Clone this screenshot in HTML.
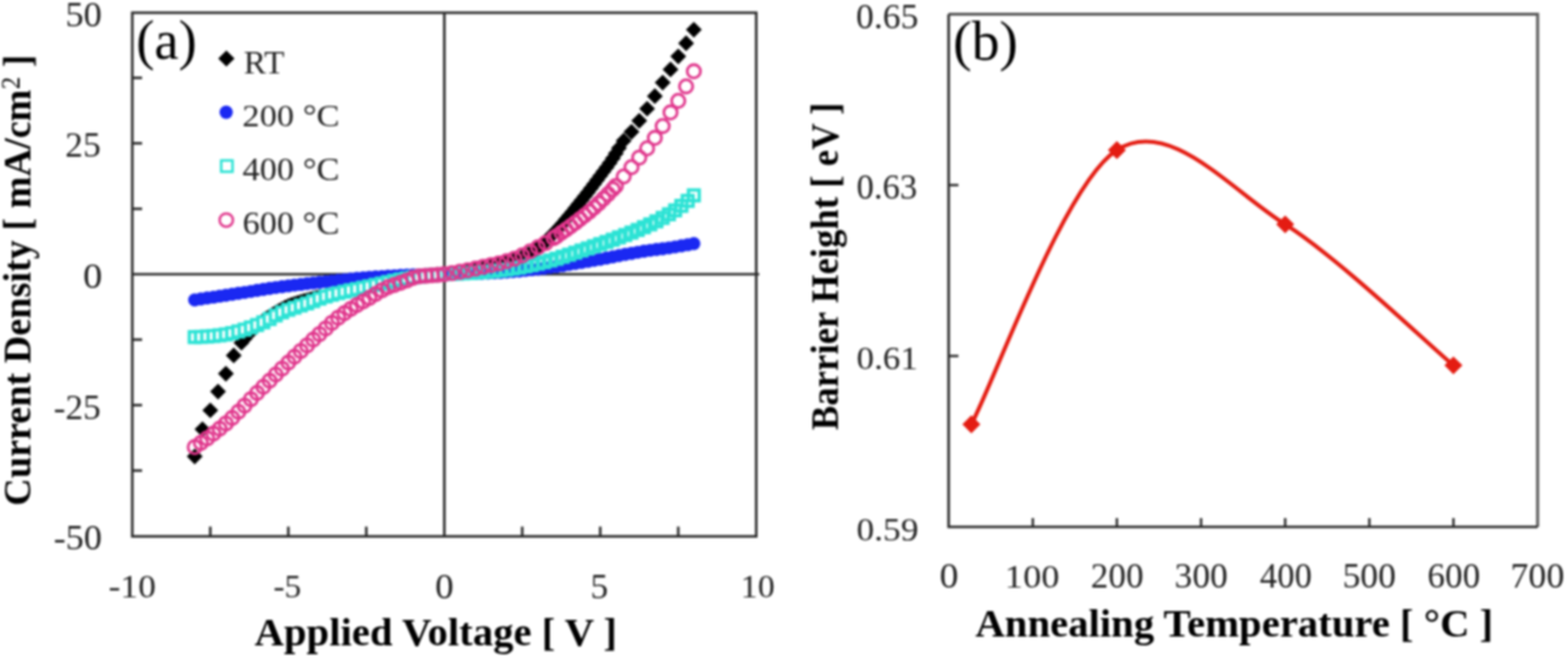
<!DOCTYPE html>
<html><head><meta charset="utf-8"><title>Figure</title>
<style>html,body{margin:0;padding:0;background:#fff;width:1600px;height:678px;overflow:hidden}svg{display:block;filter:blur(0.8px)}</style>
</head><body>
<svg width="1600" height="678" viewBox="0 0 1600 678" font-family="'Liberation Serif', serif">
<rect width="1600" height="678" fill="#fff"/>
<g stroke="#2a2a2a" stroke-width="2.6" fill="none">
<rect x="135.0" y="13.0" width="636.7" height="534.7"/>
<line x1="135.0" y1="280.0" x2="774.7" y2="280.0"/>
<line x1="453.4" y1="13.0" x2="453.4" y2="547.7"/>
<line x1="135.0" y1="79.5" x2="145.0" y2="79.5"/>
<line x1="135.0" y1="146.3" x2="145.0" y2="146.3"/>
<line x1="135.0" y1="213.2" x2="145.0" y2="213.2"/>
<line x1="135.0" y1="346.8" x2="145.0" y2="346.8"/>
<line x1="135.0" y1="413.7" x2="145.0" y2="413.7"/>
<line x1="135.0" y1="480.5" x2="145.0" y2="480.5"/>
<line x1="214.6" y1="547.7" x2="214.6" y2="537.7"/>
<line x1="294.2" y1="547.7" x2="294.2" y2="537.7"/>
<line x1="373.8" y1="547.7" x2="373.8" y2="537.7"/>
<line x1="532.9" y1="547.7" x2="532.9" y2="537.7"/>
<line x1="612.5" y1="547.7" x2="612.5" y2="537.7"/>
<line x1="692.1" y1="547.7" x2="692.1" y2="537.7"/>
</g>
<g>
<path d="M198.7 458.0L206.8 466.1L198.7 474.2L190.6 466.1Z" fill="#000"/>
<path d="M206.6 430.2L214.7 438.3L206.6 446.4L198.5 438.3Z" fill="#000"/>
<path d="M214.6 410.9L222.7 419.0L214.6 427.1L206.5 419.0Z" fill="#000"/>
<path d="M222.5 391.7L230.6 399.8L222.5 407.9L214.4 399.8Z" fill="#000"/>
<path d="M230.5 373.5L238.6 381.6L230.5 389.7L222.4 381.6Z" fill="#000"/>
<path d="M238.5 354.8L246.6 362.9L238.5 371.0L230.4 362.9Z" fill="#000"/>
<path d="M246.4 341.9L254.5 350.0L246.4 358.1L238.3 350.0Z" fill="#000"/>
<path d="M249.6 337.8L257.7 345.9L249.6 354.0L241.5 345.9Z" fill="#000"/>
<path d="M252.8 334.0L260.9 342.1L252.8 350.2L244.7 342.1Z" fill="#000"/>
<path d="M256.0 330.4L264.1 338.5L256.0 346.6L247.9 338.5Z" fill="#000"/>
<path d="M259.2 327.2L267.3 335.3L259.2 343.4L251.1 335.3Z" fill="#000"/>
<path d="M262.3 324.3L270.4 332.4L262.3 340.5L254.2 332.4Z" fill="#000"/>
<path d="M265.5 321.7L273.6 329.8L265.5 337.9L257.4 329.8Z" fill="#000"/>
<path d="M268.7 319.3L276.8 327.4L268.7 335.5L260.6 327.4Z" fill="#000"/>
<path d="M271.9 317.0L280.0 325.1L271.9 333.2L263.8 325.1Z" fill="#000"/>
<path d="M275.1 314.9L283.2 323.0L275.1 331.1L267.0 323.0Z" fill="#000"/>
<path d="M278.3 313.0L286.4 321.1L278.3 329.2L270.2 321.1Z" fill="#000"/>
<path d="M281.4 311.1L289.5 319.2L281.4 327.3L273.3 319.2Z" fill="#000"/>
<path d="M284.6 309.2L292.7 317.3L284.6 325.4L276.5 317.3Z" fill="#000"/>
<path d="M287.8 307.5L295.9 315.6L287.8 323.7L279.7 315.6Z" fill="#000"/>
<path d="M291.0 305.8L299.1 313.9L291.0 322.0L282.9 313.9Z" fill="#000"/>
<path d="M294.2 304.3L302.3 312.4L294.2 320.5L286.1 312.4Z" fill="#000"/>
<path d="M297.4 303.0L305.5 311.1L297.4 319.2L289.3 311.1Z" fill="#000"/>
<path d="M300.5 301.9L308.6 310.0L300.5 318.1L292.4 310.0Z" fill="#000"/>
<path d="M303.7 300.9L311.8 309.0L303.7 317.1L295.6 309.0Z" fill="#000"/>
<path d="M306.9 299.9L315.0 308.0L306.9 316.1L298.8 308.0Z" fill="#000"/>
<path d="M310.1 299.1L318.2 307.2L310.1 315.3L302.0 307.2Z" fill="#000"/>
<path d="M313.3 298.2L321.4 306.3L313.3 314.4L305.2 306.3Z" fill="#000"/>
<path d="M316.5 297.4L324.6 305.5L316.5 313.6L308.4 305.5Z" fill="#000"/>
<path d="M319.6 296.6L327.7 304.7L319.6 312.8L311.5 304.7Z" fill="#000"/>
<path d="M322.8 295.8L330.9 303.9L322.8 312.0L314.7 303.9Z" fill="#000"/>
<path d="M326.0 294.9L334.1 303.0L326.0 311.1L317.9 303.0Z" fill="#000"/>
<path d="M334.0 292.6L342.1 300.7L334.0 308.8L325.9 300.7Z" fill="#000"/>
<path d="M341.9 290.2L350.0 298.3L341.9 306.4L333.8 298.3Z" fill="#000"/>
<path d="M349.9 288.0L358.0 296.1L349.9 304.2L341.8 296.1Z" fill="#000"/>
<path d="M357.8 285.8L365.9 293.9L357.8 302.0L349.7 293.9Z" fill="#000"/>
<path d="M365.8 283.7L373.9 291.8L365.8 299.9L357.7 291.8Z" fill="#000"/>
<path d="M373.8 281.7L381.9 289.8L373.8 297.9L365.7 289.8Z" fill="#000"/>
<path d="M381.7 279.8L389.8 287.9L381.7 296.0L373.6 287.9Z" fill="#000"/>
<path d="M389.7 278.3L397.8 286.4L389.7 294.5L381.6 286.4Z" fill="#000"/>
<path d="M397.6 277.2L405.7 285.3L397.6 293.4L389.5 285.3Z" fill="#000"/>
<path d="M405.6 276.2L413.7 284.3L405.6 292.4L397.5 284.3Z" fill="#000"/>
<path d="M413.6 275.4L421.7 283.5L413.6 291.6L405.5 283.5Z" fill="#000"/>
<path d="M421.5 274.6L429.6 282.7L421.5 290.8L413.4 282.7Z" fill="#000"/>
<path d="M429.5 273.9L437.6 282.0L429.5 290.1L421.4 282.0Z" fill="#000"/>
<path d="M437.4 273.3L445.5 281.4L437.4 289.5L429.3 281.4Z" fill="#000"/>
<path d="M445.4 272.6L453.5 280.7L445.4 288.8L437.3 280.7Z" fill="#000"/>
<path d="M453.4 271.9L461.5 280.0L453.4 288.1L445.2 280.0Z" fill="#000"/>
<path d="M461.3 271.0L469.4 279.1L461.3 287.2L453.2 279.1Z" fill="#000"/>
<path d="M469.3 270.0L477.4 278.1L469.3 286.2L461.2 278.1Z" fill="#000"/>
<path d="M477.2 268.9L485.3 277.0L477.2 285.1L469.1 277.0Z" fill="#000"/>
<path d="M485.2 267.6L493.3 275.7L485.2 283.8L477.1 275.7Z" fill="#000"/>
<path d="M493.1 266.0L501.2 274.1L493.1 282.2L485.0 274.1Z" fill="#000"/>
<path d="M501.1 264.1L509.2 272.2L501.1 280.3L493.0 272.2Z" fill="#000"/>
<path d="M509.1 262.0L517.2 270.1L509.1 278.2L501.0 270.1Z" fill="#000"/>
<path d="M517.0 259.6L525.1 267.7L517.0 275.8L508.9 267.7Z" fill="#000"/>
<path d="M525.0 257.1L533.1 265.2L525.0 273.3L516.9 265.2Z" fill="#000"/>
<path d="M532.9 254.3L541.0 262.4L532.9 270.5L524.8 262.4Z" fill="#000"/>
<path d="M536.1 253.0L544.2 261.1L536.1 269.2L528.0 261.1Z" fill="#000"/>
<path d="M539.3 251.6L547.4 259.7L539.3 267.8L531.2 259.7Z" fill="#000"/>
<path d="M542.5 250.0L550.6 258.1L542.5 266.2L534.4 258.1Z" fill="#000"/>
<path d="M545.7 248.0L553.8 256.1L545.7 264.2L537.6 256.1Z" fill="#000"/>
<path d="M548.9 245.6L557.0 253.7L548.9 261.8L540.8 253.7Z" fill="#000"/>
<path d="M552.0 242.9L560.1 251.0L552.0 259.1L543.9 251.0Z" fill="#000"/>
<path d="M555.2 239.9L563.3 248.0L555.2 256.1L547.1 248.0Z" fill="#000"/>
<path d="M558.4 236.7L566.5 244.8L558.4 252.9L550.3 244.8Z" fill="#000"/>
<path d="M561.6 233.4L569.7 241.5L561.6 249.6L553.5 241.5Z" fill="#000"/>
<path d="M564.8 230.2L572.9 238.3L564.8 246.4L556.7 238.3Z" fill="#000"/>
<path d="M568.0 226.9L576.1 235.0L568.0 243.1L559.9 235.0Z" fill="#000"/>
<path d="M571.1 223.4L579.2 231.5L571.1 239.6L563.0 231.5Z" fill="#000"/>
<path d="M574.3 219.8L582.4 227.9L574.3 236.0L566.2 227.9Z" fill="#000"/>
<path d="M577.5 216.0L585.6 224.1L577.5 232.2L569.4 224.1Z" fill="#000"/>
<path d="M580.7 212.2L588.8 220.3L580.7 228.4L572.6 220.3Z" fill="#000"/>
<path d="M583.9 208.3L592.0 216.4L583.9 224.5L575.8 216.4Z" fill="#000"/>
<path d="M587.1 204.3L595.2 212.4L587.1 220.5L579.0 212.4Z" fill="#000"/>
<path d="M590.2 200.4L598.3 208.5L590.2 216.6L582.1 208.5Z" fill="#000"/>
<path d="M593.4 196.4L601.5 204.5L593.4 212.6L585.3 204.5Z" fill="#000"/>
<path d="M596.6 192.4L604.7 200.5L596.6 208.6L588.5 200.5Z" fill="#000"/>
<path d="M599.8 188.3L607.9 196.4L599.8 204.5L591.7 196.4Z" fill="#000"/>
<path d="M603.0 184.1L611.1 192.2L603.0 200.3L594.9 192.2Z" fill="#000"/>
<path d="M606.2 179.9L614.3 188.0L606.2 196.1L598.1 188.0Z" fill="#000"/>
<path d="M609.3 175.7L617.4 183.8L609.3 191.9L601.2 183.8Z" fill="#000"/>
<path d="M612.5 171.4L620.6 179.5L612.5 187.6L604.4 179.5Z" fill="#000"/>
<path d="M615.7 167.1L623.8 175.2L615.7 183.3L607.6 175.2Z" fill="#000"/>
<path d="M618.9 162.8L627.0 170.9L618.9 179.0L610.8 170.9Z" fill="#000"/>
<path d="M622.1 158.3L630.2 166.4L622.1 174.5L614.0 166.4Z" fill="#000"/>
<path d="M625.3 153.6L633.4 161.7L625.3 169.8L617.2 161.7Z" fill="#000"/>
<path d="M628.4 148.6L636.5 156.7L628.4 164.8L620.3 156.7Z" fill="#000"/>
<path d="M631.6 143.1L639.7 151.2L631.6 159.3L623.5 151.2Z" fill="#000"/>
<path d="M636.4 135.6L644.5 143.7L636.4 151.8L628.3 143.7Z" fill="#000"/>
<path d="M644.4 126.5L652.5 134.6L644.4 142.7L636.3 134.6Z" fill="#000"/>
<path d="M652.3 115.2L660.4 123.3L652.3 131.4L644.2 123.3Z" fill="#000"/>
<path d="M660.3 102.9L668.4 111.0L660.3 119.1L652.2 111.0Z" fill="#000"/>
<path d="M668.2 90.1L676.3 98.2L668.2 106.3L660.1 98.2Z" fill="#000"/>
<path d="M676.2 76.2L684.3 84.3L676.2 92.4L668.1 84.3Z" fill="#000"/>
<path d="M684.2 62.8L692.3 70.9L684.2 79.0L676.1 70.9Z" fill="#000"/>
<path d="M692.1 49.5L700.2 57.6L692.1 65.7L684.0 57.6Z" fill="#000"/>
<path d="M700.1 36.1L708.2 44.2L700.1 52.3L692.0 44.2Z" fill="#000"/>
<path d="M708.0 22.2L716.1 30.3L708.0 38.4L699.9 30.3Z" fill="#000"/>
</g>
<g fill="#1a28f2">
<circle cx="198.7" cy="306.2" r="6.7"/>
<circle cx="205.0" cy="305.3" r="6.7"/>
<circle cx="211.4" cy="304.3" r="6.7"/>
<circle cx="217.8" cy="303.4" r="6.7"/>
<circle cx="224.1" cy="302.4" r="6.7"/>
<circle cx="230.5" cy="301.5" r="6.7"/>
<circle cx="236.9" cy="300.5" r="6.7"/>
<circle cx="243.2" cy="299.5" r="6.7"/>
<circle cx="249.6" cy="298.6" r="6.7"/>
<circle cx="256.0" cy="297.6" r="6.7"/>
<circle cx="262.3" cy="296.5" r="6.7"/>
<circle cx="268.7" cy="295.5" r="6.7"/>
<circle cx="275.1" cy="294.5" r="6.7"/>
<circle cx="281.4" cy="293.6" r="6.7"/>
<circle cx="287.8" cy="292.7" r="6.7"/>
<circle cx="294.2" cy="291.9" r="6.7"/>
<circle cx="300.5" cy="291.1" r="6.7"/>
<circle cx="306.9" cy="290.4" r="6.7"/>
<circle cx="313.3" cy="289.6" r="6.7"/>
<circle cx="319.6" cy="288.9" r="6.7"/>
<circle cx="326.0" cy="288.3" r="6.7"/>
<circle cx="332.4" cy="287.6" r="6.7"/>
<circle cx="338.7" cy="286.9" r="6.7"/>
<circle cx="345.1" cy="286.2" r="6.7"/>
<circle cx="351.5" cy="285.6" r="6.7"/>
<circle cx="357.8" cy="284.9" r="6.7"/>
<circle cx="364.2" cy="284.3" r="6.7"/>
<circle cx="370.6" cy="283.7" r="6.7"/>
<circle cx="376.9" cy="283.2" r="6.7"/>
<circle cx="383.3" cy="282.8" r="6.7"/>
<circle cx="389.7" cy="282.4" r="6.7"/>
<circle cx="396.0" cy="282.0" r="6.7"/>
<circle cx="402.4" cy="281.6" r="6.7"/>
<circle cx="408.8" cy="281.3" r="6.7"/>
<circle cx="415.1" cy="281.0" r="6.7"/>
<circle cx="421.5" cy="280.8" r="6.7"/>
<circle cx="427.9" cy="280.6" r="6.7"/>
<circle cx="434.2" cy="280.4" r="6.7"/>
<circle cx="440.6" cy="280.3" r="6.7"/>
<circle cx="447.0" cy="280.2" r="6.7"/>
<circle cx="453.4" cy="280.0" r="6.7"/>
<circle cx="459.7" cy="279.8" r="6.7"/>
<circle cx="466.1" cy="279.7" r="6.7"/>
<circle cx="472.5" cy="279.5" r="6.7"/>
<circle cx="478.8" cy="279.4" r="6.7"/>
<circle cx="485.2" cy="279.2" r="6.7"/>
<circle cx="491.6" cy="279.0" r="6.7"/>
<circle cx="497.9" cy="278.8" r="6.7"/>
<circle cx="504.3" cy="278.5" r="6.7"/>
<circle cx="510.7" cy="278.2" r="6.7"/>
<circle cx="517.0" cy="277.7" r="6.7"/>
<circle cx="523.4" cy="277.2" r="6.7"/>
<circle cx="529.8" cy="276.7" r="6.7"/>
<circle cx="536.1" cy="276.0" r="6.7"/>
<circle cx="542.5" cy="275.4" r="6.7"/>
<circle cx="548.9" cy="274.7" r="6.7"/>
<circle cx="555.2" cy="274.0" r="6.7"/>
<circle cx="561.6" cy="273.1" r="6.7"/>
<circle cx="568.0" cy="272.2" r="6.7"/>
<circle cx="574.3" cy="271.2" r="6.7"/>
<circle cx="580.7" cy="270.1" r="6.7"/>
<circle cx="587.1" cy="269.1" r="6.7"/>
<circle cx="593.4" cy="268.0" r="6.7"/>
<circle cx="599.8" cy="266.9" r="6.7"/>
<circle cx="606.2" cy="265.8" r="6.7"/>
<circle cx="612.5" cy="264.7" r="6.7"/>
<circle cx="618.9" cy="263.5" r="6.7"/>
<circle cx="625.3" cy="262.3" r="6.7"/>
<circle cx="631.6" cy="261.0" r="6.7"/>
<circle cx="638.0" cy="259.8" r="6.7"/>
<circle cx="644.4" cy="258.7" r="6.7"/>
<circle cx="650.7" cy="257.6" r="6.7"/>
<circle cx="657.1" cy="256.5" r="6.7"/>
<circle cx="663.5" cy="255.6" r="6.7"/>
<circle cx="669.8" cy="254.8" r="6.7"/>
<circle cx="676.2" cy="254.0" r="6.7"/>
<circle cx="682.6" cy="253.1" r="6.7"/>
<circle cx="688.9" cy="252.1" r="6.7"/>
<circle cx="695.3" cy="251.0" r="6.7"/>
<circle cx="701.7" cy="249.9" r="6.7"/>
<circle cx="708.0" cy="248.7" r="6.7"/>
</g>
<g stroke="#2de3d5" stroke-width="3.4">
<rect x="193.2" y="338.7" width="11" height="11" fill="#fff"/>
<rect x="199.5" y="338.5" width="11" height="11" fill="#fff"/>
<rect x="205.9" y="338.1" width="11" height="11" fill="#fff"/>
<rect x="212.3" y="337.6" width="11" height="11" fill="#fff"/>
<rect x="218.6" y="336.9" width="11" height="11" fill="#fff"/>
<rect x="225.0" y="336.0" width="11" height="11" fill="#fff"/>
<rect x="231.4" y="334.7" width="11" height="11" fill="#fff"/>
<rect x="237.7" y="333.0" width="11" height="11" fill="#fff"/>
<rect x="244.1" y="331.1" width="11" height="11" fill="#fff"/>
<rect x="250.5" y="328.9" width="11" height="11" fill="#fff"/>
<rect x="256.8" y="326.4" width="11" height="11" fill="#fff"/>
<rect x="263.2" y="323.6" width="11" height="11" fill="#fff"/>
<rect x="269.6" y="320.2" width="11" height="11" fill="#fff"/>
<rect x="275.9" y="316.6" width="11" height="11" fill="#fff"/>
<rect x="282.3" y="313.4" width="11" height="11" fill="#fff"/>
<rect x="288.7" y="310.8" width="11" height="11" fill="#fff"/>
<rect x="295.0" y="308.6" width="11" height="11" fill="#fff"/>
<rect x="301.4" y="306.4" width="11" height="11" fill="#fff"/>
<rect x="307.8" y="304.3" width="11" height="11" fill="#fff"/>
<rect x="314.1" y="301.9" width="11" height="11" fill="#fff"/>
<rect x="320.5" y="299.4" width="11" height="11" fill="#fff"/>
<rect x="326.9" y="297.2" width="11" height="11" fill="#fff"/>
<rect x="333.2" y="295.4" width="11" height="11" fill="#fff"/>
<rect x="339.6" y="293.8" width="11" height="11" fill="#fff"/>
<rect x="346.0" y="292.3" width="11" height="11" fill="#fff"/>
<rect x="352.3" y="290.9" width="11" height="11" fill="#fff"/>
<rect x="358.7" y="289.6" width="11" height="11" fill="#fff"/>
<rect x="365.1" y="288.2" width="11" height="11" fill="#fff"/>
<rect x="371.4" y="286.9" width="11" height="11" fill="#fff"/>
<rect x="377.8" y="285.4" width="11" height="11" fill="#fff"/>
<rect x="384.2" y="284.0" width="11" height="11" fill="#fff"/>
<rect x="390.5" y="282.5" width="11" height="11" fill="#fff"/>
<rect x="396.9" y="281.1" width="11" height="11" fill="#fff"/>
<rect x="403.3" y="279.8" width="11" height="11" fill="#fff"/>
<rect x="409.6" y="278.7" width="11" height="11" fill="#fff"/>
<rect x="416.0" y="277.7" width="11" height="11" fill="#fff"/>
<rect x="422.4" y="276.9" width="11" height="11" fill="#fff"/>
<rect x="428.7" y="276.2" width="11" height="11" fill="#fff"/>
<rect x="435.1" y="275.5" width="11" height="11" fill="#fff"/>
<rect x="441.5" y="275.0" width="11" height="11" fill="#fff"/>
<rect x="447.9" y="274.5" width="11" height="11" fill="none"/>
<rect x="454.2" y="274.1" width="11" height="11" fill="none"/>
<rect x="460.6" y="273.8" width="11" height="11" fill="none"/>
<rect x="467.0" y="273.6" width="11" height="11" fill="none"/>
<rect x="473.3" y="273.3" width="11" height="11" fill="none"/>
<rect x="479.7" y="272.9" width="11" height="11" fill="none"/>
<rect x="486.1" y="272.4" width="11" height="11" fill="none"/>
<rect x="492.4" y="271.9" width="11" height="11" fill="none"/>
<rect x="498.8" y="271.3" width="11" height="11" fill="none"/>
<rect x="505.2" y="270.6" width="11" height="11" fill="none"/>
<rect x="511.5" y="269.8" width="11" height="11" fill="none"/>
<rect x="517.9" y="268.9" width="11" height="11" fill="none"/>
<rect x="524.3" y="267.8" width="11" height="11" fill="none"/>
<rect x="530.6" y="266.5" width="11" height="11" fill="none"/>
<rect x="537.0" y="265.2" width="11" height="11" fill="none"/>
<rect x="543.4" y="263.7" width="11" height="11" fill="none"/>
<rect x="549.7" y="262.2" width="11" height="11" fill="none"/>
<rect x="556.1" y="260.5" width="11" height="11" fill="none"/>
<rect x="562.5" y="258.7" width="11" height="11" fill="none"/>
<rect x="568.8" y="256.7" width="11" height="11" fill="none"/>
<rect x="575.2" y="254.6" width="11" height="11" fill="none"/>
<rect x="581.6" y="252.5" width="11" height="11" fill="none"/>
<rect x="587.9" y="250.3" width="11" height="11" fill="none"/>
<rect x="594.3" y="248.2" width="11" height="11" fill="none"/>
<rect x="600.7" y="246.0" width="11" height="11" fill="none"/>
<rect x="607.0" y="243.8" width="11" height="11" fill="none"/>
<rect x="613.4" y="241.6" width="11" height="11" fill="none"/>
<rect x="619.8" y="239.3" width="11" height="11" fill="none"/>
<rect x="626.1" y="236.9" width="11" height="11" fill="none"/>
<rect x="632.5" y="234.5" width="11" height="11" fill="none"/>
<rect x="638.9" y="232.0" width="11" height="11" fill="none"/>
<rect x="645.2" y="229.3" width="11" height="11" fill="none"/>
<rect x="651.6" y="226.5" width="11" height="11" fill="none"/>
<rect x="658.0" y="223.6" width="11" height="11" fill="none"/>
<rect x="664.3" y="220.5" width="11" height="11" fill="none"/>
<rect x="670.7" y="217.0" width="11" height="11" fill="none"/>
<rect x="677.1" y="213.3" width="11" height="11" fill="none"/>
<rect x="683.4" y="209.3" width="11" height="11" fill="none"/>
<rect x="689.8" y="204.7" width="11" height="11" fill="none"/>
<rect x="696.2" y="199.6" width="11" height="11" fill="none"/>
<rect x="702.5" y="194.0" width="11" height="11" fill="none"/>
</g>
<g fill="none" stroke="#e0368c" stroke-width="2.8">
<circle cx="198.7" cy="456.5" r="6.8"/>
<circle cx="205.0" cy="452.2" r="6.8"/>
<circle cx="211.4" cy="447.6" r="6.8"/>
<circle cx="217.8" cy="442.8" r="6.8"/>
<circle cx="224.1" cy="437.7" r="6.8"/>
<circle cx="230.5" cy="432.4" r="6.8"/>
<circle cx="236.9" cy="426.7" r="6.8"/>
<circle cx="243.2" cy="420.5" r="6.8"/>
<circle cx="249.6" cy="414.1" r="6.8"/>
<circle cx="256.0" cy="407.6" r="6.8"/>
<circle cx="262.3" cy="401.2" r="6.8"/>
<circle cx="268.7" cy="395.0" r="6.8"/>
<circle cx="275.1" cy="388.8" r="6.8"/>
<circle cx="281.4" cy="382.5" r="6.8"/>
<circle cx="287.8" cy="376.4" r="6.8"/>
<circle cx="294.2" cy="370.3" r="6.8"/>
<circle cx="300.5" cy="364.3" r="6.8"/>
<circle cx="306.9" cy="358.4" r="6.8"/>
<circle cx="313.3" cy="352.6" r="6.8"/>
<circle cx="319.6" cy="346.8" r="6.8"/>
<circle cx="326.0" cy="341.1" r="6.8"/>
<circle cx="332.4" cy="335.4" r="6.8"/>
<circle cx="338.7" cy="329.6" r="6.8"/>
<circle cx="345.1" cy="324.4" r="6.8"/>
<circle cx="351.5" cy="319.8" r="6.8"/>
<circle cx="357.8" cy="315.5" r="6.8"/>
<circle cx="364.2" cy="311.5" r="6.8"/>
<circle cx="370.6" cy="307.8" r="6.8"/>
<circle cx="376.9" cy="304.2" r="6.8"/>
<circle cx="383.3" cy="300.3" r="6.8"/>
<circle cx="389.7" cy="296.4" r="6.8"/>
<circle cx="396.0" cy="293.2" r="6.8"/>
<circle cx="402.4" cy="291.0" r="6.8"/>
<circle cx="408.8" cy="288.7" r="6.8"/>
<circle cx="415.1" cy="286.4" r="6.8"/>
<circle cx="421.5" cy="283.8" r="6.8"/>
<circle cx="427.9" cy="282.1" r="6.8"/>
<circle cx="434.2" cy="281.6" r="6.8"/>
<circle cx="440.6" cy="281.1" r="6.8"/>
<circle cx="447.0" cy="280.6" r="6.8"/>
<circle cx="453.4" cy="280.0" r="6.8"/>
<circle cx="461.3" cy="278.9" r="6.8"/>
<circle cx="469.3" cy="277.5" r="6.8"/>
<circle cx="477.2" cy="276.0" r="6.8"/>
<circle cx="485.2" cy="274.3" r="6.8"/>
<circle cx="493.1" cy="272.4" r="6.8"/>
<circle cx="501.1" cy="270.6" r="6.8"/>
<circle cx="509.1" cy="268.9" r="6.8"/>
<circle cx="517.0" cy="266.8" r="6.8"/>
<circle cx="525.0" cy="264.1" r="6.8"/>
<circle cx="532.9" cy="260.7" r="6.8"/>
<circle cx="540.9" cy="256.7" r="6.8"/>
<circle cx="548.9" cy="252.5" r="6.8"/>
<circle cx="556.8" cy="248.1" r="6.8"/>
<circle cx="564.8" cy="243.1" r="6.8"/>
<circle cx="568.0" cy="241.1" r="6.8"/>
<circle cx="572.7" cy="237.8" r="6.8"/>
<circle cx="577.5" cy="234.5" r="6.8"/>
<circle cx="582.3" cy="231.0" r="6.8"/>
<circle cx="587.1" cy="227.4" r="6.8"/>
<circle cx="591.8" cy="223.8" r="6.8"/>
<circle cx="596.6" cy="220.0" r="6.8"/>
<circle cx="601.4" cy="216.1" r="6.8"/>
<circle cx="606.2" cy="212.0" r="6.8"/>
<circle cx="610.9" cy="207.6" r="6.8"/>
<circle cx="615.7" cy="203.0" r="6.8"/>
<circle cx="620.5" cy="198.2" r="6.8"/>
<circle cx="625.3" cy="193.3" r="6.8"/>
<circle cx="628.4" cy="189.9" r="6.8"/>
<circle cx="636.4" cy="180.2" r="6.8"/>
<circle cx="644.4" cy="170.7" r="6.8"/>
<circle cx="652.3" cy="160.9" r="6.8"/>
<circle cx="660.3" cy="151.5" r="6.8"/>
<circle cx="668.2" cy="140.8" r="6.8"/>
<circle cx="676.2" cy="128.7" r="6.8"/>
<circle cx="684.2" cy="114.8" r="6.8"/>
<circle cx="692.1" cy="103.0" r="6.8"/>
<circle cx="700.1" cy="88.2" r="6.8"/>
<circle cx="708.0" cy="72.8" r="6.8"/>
</g>
<path d="M231.0 51.5L239.3 59.8L231.0 68.1L222.7 59.8Z" fill="#000"/>
<circle cx="230.8" cy="114.6" r="6.8" fill="#1a28f2"/>
<rect x="225.75" y="163.85" width="11.5" height="11.5" fill="none" stroke="#2de3d5" stroke-width="2.6"/>
<circle cx="230.9" cy="224.7" r="6.8" fill="none" stroke="#e0368c" stroke-width="2.5"/>
<path d="M968.0 14.5H1569.0V538.0" fill="none" stroke="#585858" stroke-width="3.0"/>
<path d="M968.0 14.5V538.0H1569.0" fill="none" stroke="#262626" stroke-width="2.6"/>
<g stroke="#262626" stroke-width="2.4">
<line x1="968.0" y1="189.0" x2="978.0" y2="189.0"/>
<line x1="968.0" y1="363.5" x2="978.0" y2="363.5"/>
<line x1="1053.9" y1="538.0" x2="1053.9" y2="529.0"/>
<line x1="1139.7" y1="538.0" x2="1139.7" y2="529.0"/>
<line x1="1225.6" y1="538.0" x2="1225.6" y2="529.0"/>
<line x1="1311.4" y1="538.0" x2="1311.4" y2="529.0"/>
<line x1="1397.3" y1="538.0" x2="1397.3" y2="529.0"/>
<line x1="1483.1" y1="538.0" x2="1483.1" y2="529.0"/>
</g>
<path d="M991.2 433.3 C1015.9 386.6 1086.3 187.3 1139.7 153.2 C1193.1 119.2 1254.2 192.5 1311.4 229.1 C1368.7 265.8 1454.5 349.1 1483.1 373.1" fill="none" stroke="#e41c12" stroke-width="4.1" stroke-linecap="round"/>
<path d="M991.2 424.1L1000.4 433.3L991.2 442.5L982.0 433.3Z" fill="#e41c12"/>
<path d="M1139.7 144.0L1148.9 153.2L1139.7 162.4L1130.5 153.2Z" fill="#e41c12"/>
<path d="M1311.4 219.9L1320.6 229.1L1311.4 238.3L1302.2 229.1Z" fill="#e41c12"/>
<path d="M1483.1 363.9L1492.3 373.1L1483.1 382.3L1473.9 373.1Z" fill="#e41c12"/>
<text transform="translate(66.66 26.69) scale(0.3733 0.3567)" font-size="100" font-weight="normal" fill="#222" xml:space="preserve">50</text>
<text transform="translate(66.55 160.04) scale(0.3620 0.3621)" font-size="100" font-weight="normal" fill="#222" xml:space="preserve">25</text>
<text transform="translate(84.73 294.10) scale(0.3929 0.3478)" font-size="100" font-weight="normal" fill="#222" xml:space="preserve">0</text>
<text transform="translate(54.76 427.64) scale(0.3608 0.3576)" font-size="100" font-weight="normal" fill="#222" xml:space="preserve">-25</text>
<text transform="translate(54.72 561.47) scale(0.3704 0.3657)" font-size="100" font-weight="normal" fill="#222" xml:space="preserve">-50</text>
<text transform="translate(110.65 610.33) scale(0.3632 0.3338)" font-size="100" font-weight="normal" fill="#222" xml:space="preserve">-10</text>
<text transform="translate(278.93 610.37) scale(0.3427 0.3318)" font-size="100" font-weight="normal" fill="#222" xml:space="preserve">-5</text>
<text transform="translate(444.09 610.60) scale(0.3786 0.3522)" font-size="100" font-weight="normal" fill="#222" xml:space="preserve">0</text>
<text transform="translate(602.53 610.95) scale(0.3625 0.3485)" font-size="100" font-weight="normal" fill="#222" xml:space="preserve">5</text>
<text transform="translate(755.77 610.31) scale(0.3483 0.3426)" font-size="100" font-weight="normal" fill="#222" xml:space="preserve">10</text>
<text transform="translate(138.97 59.63) scale(0.5583 0.5700)" font-size="100" font-weight="normal" fill="#000" xml:space="preserve">(a)</text>
<text transform="translate(248.78 74.50) scale(0.3402 0.3354)" font-size="100" font-weight="normal" fill="#222" xml:space="preserve">RT</text>
<text transform="translate(247.29 128.66) scale(0.3522 0.3221)" font-size="100" font-weight="normal" fill="#222" xml:space="preserve">200 °C</text>
<text transform="translate(247.50 184.33) scale(0.3511 0.3338)" font-size="100" font-weight="normal" fill="#222" xml:space="preserve">400 °C</text>
<text transform="translate(247.39 238.93) scale(0.3515 0.3368)" font-size="100" font-weight="normal" fill="#222" xml:space="preserve">600 °C</text>
<text transform="translate(259.78 659.10) scale(0.4152 0.4062)" font-size="100" font-weight="bold" fill="#000" xml:space="preserve">Applied Voltage [ V ]</text>
<text transform="translate(31.20 516.45) rotate(-90) scale(0.3903 0.4031)" font-size="100" font-weight="bold" fill="#000" xml:space="preserve">Current Density [ mA/cm<tspan font-size="66" font-weight="normal" dy="-28">2</tspan><tspan dy="28"> ]</tspan></text>
<text transform="translate(873.55 28.50) scale(0.3635 0.3500)" font-size="100" font-weight="normal" fill="#222" xml:space="preserve">0.65</text>
<text transform="translate(873.98 202.70) scale(0.3545 0.3478)" font-size="100" font-weight="normal" fill="#222" xml:space="preserve">0.63</text>
<text transform="translate(873.96 377.11) scale(0.3588 0.3426)" font-size="100" font-weight="normal" fill="#222" xml:space="preserve">0.61</text>
<text transform="translate(873.95 551.82) scale(0.3617 0.3418)" font-size="100" font-weight="normal" fill="#222" xml:space="preserve">0.59</text>
<text transform="translate(972.42 61.22) scale(0.5694 0.5611)" font-size="100" font-weight="normal" fill="#000" xml:space="preserve">(b)</text>
<text transform="translate(995.28 650.10) scale(0.4158 0.3969)" font-size="100" font-weight="bold" fill="#000" xml:space="preserve">Annealing Temperature [ °C ]</text>
<text transform="translate(855.00 439.25) rotate(-90) scale(0.3758 0.4108)" font-size="100" font-weight="bold" fill="#000" xml:space="preserve">Barrier Height [ eV ]</text>
<text transform="translate(958.66 600.30) scale(0.3857 0.3507)" font-size="100" font-weight="normal" fill="#222" xml:space="preserve">0</text>
<text transform="translate(1025.31 600.31) scale(0.3723 0.3456)" font-size="100" font-weight="normal" fill="#222" xml:space="preserve">100</text>
<text transform="translate(1113.08 600.30) scale(0.3592 0.3507)" font-size="100" font-weight="normal" fill="#222" xml:space="preserve">200</text>
<text transform="translate(1198.56 600.30) scale(0.3617 0.3507)" font-size="100" font-weight="normal" fill="#222" xml:space="preserve">300</text>
<text transform="translate(1285.52 600.30) scale(0.3542 0.3507)" font-size="100" font-weight="normal" fill="#222" xml:space="preserve">400</text>
<text transform="translate(1369.90 600.30) scale(0.3643 0.3507)" font-size="100" font-weight="normal" fill="#222" xml:space="preserve">500</text>
<text transform="translate(1456.51 600.30) scale(0.3592 0.3507)" font-size="100" font-weight="normal" fill="#222" xml:space="preserve">600</text>
<text transform="translate(1541.23 600.30) scale(0.3669 0.3507)" font-size="100" font-weight="normal" fill="#222" xml:space="preserve">700</text>
</svg>
</body></html>
